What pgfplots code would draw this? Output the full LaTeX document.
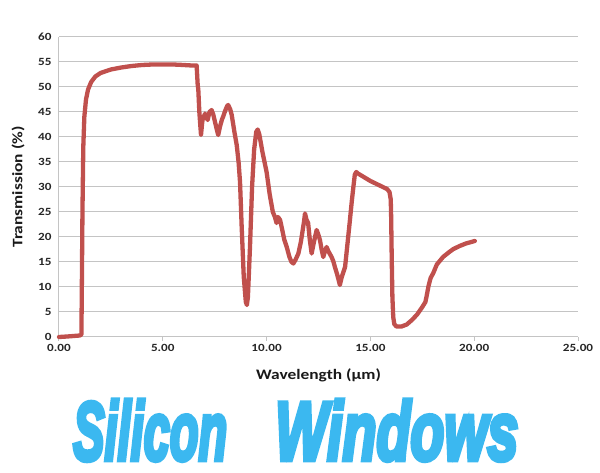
\documentclass[border=0pt]{standalone}
\usepackage{fontspec}
\setmainfont{Carlito}[FakeStretch=1.2]
\newfontfamily\bannerfont{Liberation Sans}[FakeBold=6]
\usepackage{pgfplots}
\pgfplotsset{compat=1.18}
\definecolor{linered}{HTML}{C0504D}
\definecolor{gridgray}{HTML}{C4C4C4}
\definecolor{banner}{HTML}{3BB8F0}
\pgfplotstableread{
x y
0.00 0
0.40 0.1
1.00 0.3
1.08 0.5
1.10 10
1.13 25
1.17 38
1.22 44
1.30 47.5
1.40 49.5
1.55 51
1.75 52.1
2.00 52.8
2.50 53.5
3.00 53.9
3.50 54.2
4.00 54.4
4.50 54.5
5.00 54.5
5.50 54.5
6.00 54.4
6.40 54.3
6.63 54.3
6.66 52
6.68 50.5
6.71 49.5
6.76 45
6.84 40.4
6.90 43
6.95 44.2
7.00 43.8
7.03 44.7
7.10 44
7.16 43.4
7.25 45
7.35 45.4
7.43 44.5
7.51 43.1
7.60 41.5
7.67 40.4
7.75 42
7.85 43.5
7.91 44.1
8.00 45.2
8.10 46.2
8.15 46.4
8.25 45.5
8.32 44.4
8.45 41
8.56 38.4
8.65 35
8.72 31
8.80 22
8.90 12
9.00 7
9.05 6.4
9.10 8
9.20 18
9.30 30
9.40 37.5
9.50 41
9.57 41.5
9.65 40.5
9.80 37
10.00 33
10.15 28.5
10.30 25
10.40 24
10.48 22.8
10.55 24
10.65 23.4
10.75 21.5
10.85 19.5
10.97 18
11.10 16
11.20 15
11.29 14.7
11.40 15.5
11.53 16.7
11.65 19
11.80 23
11.85 24.7
11.92 23.5
12.00 22.8
12.08 19.5
12.17 16.7
12.28 19
12.41 21.4
12.49 20.5
12.57 19.4
12.65 17.5
12.73 16
12.80 17
12.89 18
12.97 17.2
13.05 16.6
13.13 16
13.21 15.2
13.29 14
13.40 12.5
13.53 10.4
13.62 12
13.70 13
13.78 14
13.88 18
14.00 22.8
14.10 27
14.18 30
14.25 32.5
14.32 33
14.40 32.7
14.60 32.2
14.80 31.7
15.00 31.2
15.20 30.8
15.40 30.4
15.60 30.0
15.80 29.6
15.92 29.0
15.98 27.5
16.00 24
16.03 15
16.06 8
16.10 4
16.15 2.6
16.25 2.1
16.50 2.1
16.75 2.5
17.00 3.4
17.25 4.5
17.50 6.0
17.65 7
17.70 8
17.80 10.2
17.90 11.8
18.03 12.8
18.20 14.5
18.50 16
18.80 17
19.00 17.6
19.30 18.2
19.60 18.7
20.03 19.2
}\datatable
\begin{document}
\begin{tikzpicture}
\path[use as bounding box] (-59pt,-136pt) rectangle (541pt,337pt);
\begin{axis}[
  at={(0pt,0pt)}, anchor=south west,
  scale only axis, width=519pt, height=300pt,
  xmin=0, xmax=25, ymin=0, ymax=60,
  xtick={0,5,...,25}, ytick={0,5,...,60},
  axis x line*=bottom, axis y line*=left,
  axis line style={gridgray, line width=1pt},
  ymajorgrids, grid style={gridgray, line width=1pt},
  tick align=outside,
  x tick style={gridgray, line width=1pt}, major tick length=4pt,
  y tick style={draw=none},
  clip=false,
  /pgf/number format/assume math mode=true,
  tick label style={font=\bfseries\fontsize{11}{13}\selectfont, text=black!85},
  xticklabel style={/pgf/number format/.cd, fixed, fixed zerofill, precision=2},
  yticklabel style={/pgf/number format/.cd, fixed, precision=0},
  xlabel={Wavelength (µm)}, ylabel={Transmission (\%)},
  label style={font=\bfseries\fontsize{14.5}{16}\selectfont, text=black!90},
  xlabel style={at={(axis description cs:0.5,-0.127)}, anchor=center},
  ylabel style={at={(axis description cs:-0.079,0.5)}, anchor=center},
]
\addplot[linered, line width=4.3pt, line join=round, line cap=round] table[x=x,y=y] {\datatable};
\end{axis}
\node[anchor=south west, inner sep=0pt, text=banner] at (14pt,-124pt) {\resizebox{154pt}{60pt}{\bannerfont\bfseries\itshape Silicon}};
\node[anchor=south west, inner sep=0pt, text=banner] at (216pt,-124pt) {\resizebox{243pt}{60pt}{\bannerfont\bfseries\itshape Windows}};
\end{tikzpicture}
\end{document}
